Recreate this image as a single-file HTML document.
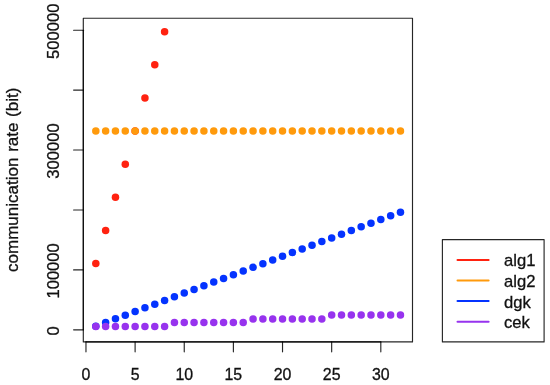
<!DOCTYPE html>
<html><head><meta charset="utf-8"><title>plot</title>
<style>html,body{margin:0;padding:0;background:#fff}svg{display:block}text{font-family:"Liberation Sans",sans-serif;fill:#111;stroke:#111;stroke-width:0.3px}</style></head>
<body>
<svg width="550" height="385" viewBox="0 0 550 385">
<rect width="550" height="385" fill="#fff"/>
<g fill="#ff2210">
<circle cx="95.80" cy="263.60" r="3.75"/>
<circle cx="105.63" cy="230.47" r="3.75"/>
<circle cx="115.46" cy="197.34" r="3.75"/>
<circle cx="125.28" cy="164.21" r="3.75"/>
<circle cx="135.11" cy="131.08" r="3.75"/>
<circle cx="144.94" cy="97.95" r="3.75"/>
<circle cx="154.77" cy="64.82" r="3.75"/>
<circle cx="164.60" cy="31.69" r="3.75"/>
</g>
<g fill="#ff9a0c">
<circle cx="95.80" cy="131.00" r="3.75"/>
<circle cx="105.63" cy="131.00" r="3.75"/>
<circle cx="115.46" cy="131.00" r="3.75"/>
<circle cx="125.28" cy="131.00" r="3.75"/>
<circle cx="135.11" cy="131.00" r="3.75"/>
<circle cx="144.94" cy="131.00" r="3.75"/>
<circle cx="154.77" cy="131.00" r="3.75"/>
<circle cx="164.60" cy="131.00" r="3.75"/>
<circle cx="174.42" cy="131.00" r="3.75"/>
<circle cx="184.25" cy="131.00" r="3.75"/>
<circle cx="194.08" cy="131.00" r="3.75"/>
<circle cx="203.91" cy="131.00" r="3.75"/>
<circle cx="213.74" cy="131.00" r="3.75"/>
<circle cx="223.56" cy="131.00" r="3.75"/>
<circle cx="233.39" cy="131.00" r="3.75"/>
<circle cx="243.22" cy="131.00" r="3.75"/>
<circle cx="253.05" cy="131.00" r="3.75"/>
<circle cx="262.88" cy="131.00" r="3.75"/>
<circle cx="272.70" cy="131.00" r="3.75"/>
<circle cx="282.53" cy="131.00" r="3.75"/>
<circle cx="292.36" cy="131.00" r="3.75"/>
<circle cx="302.19" cy="131.00" r="3.75"/>
<circle cx="312.02" cy="131.00" r="3.75"/>
<circle cx="321.84" cy="131.00" r="3.75"/>
<circle cx="331.67" cy="131.00" r="3.75"/>
<circle cx="341.50" cy="131.00" r="3.75"/>
<circle cx="351.33" cy="131.00" r="3.75"/>
<circle cx="361.16" cy="131.00" r="3.75"/>
<circle cx="370.98" cy="131.00" r="3.75"/>
<circle cx="380.81" cy="131.00" r="3.75"/>
<circle cx="390.64" cy="131.00" r="3.75"/>
<circle cx="400.47" cy="131.00" r="3.75"/>
</g>
<g fill="#0433ff">
<circle cx="95.80" cy="326.22" r="3.75"/>
<circle cx="105.63" cy="322.54" r="3.75"/>
<circle cx="115.46" cy="318.86" r="3.75"/>
<circle cx="125.28" cy="315.18" r="3.75"/>
<circle cx="135.11" cy="311.50" r="3.75"/>
<circle cx="144.94" cy="307.82" r="3.75"/>
<circle cx="154.77" cy="304.14" r="3.75"/>
<circle cx="164.60" cy="300.46" r="3.75"/>
<circle cx="174.42" cy="296.78" r="3.75"/>
<circle cx="184.25" cy="293.10" r="3.75"/>
<circle cx="194.08" cy="289.42" r="3.75"/>
<circle cx="203.91" cy="285.74" r="3.75"/>
<circle cx="213.74" cy="282.06" r="3.75"/>
<circle cx="223.56" cy="278.38" r="3.75"/>
<circle cx="233.39" cy="274.70" r="3.75"/>
<circle cx="243.22" cy="271.02" r="3.75"/>
<circle cx="253.05" cy="267.34" r="3.75"/>
<circle cx="262.88" cy="263.66" r="3.75"/>
<circle cx="272.70" cy="259.98" r="3.75"/>
<circle cx="282.53" cy="256.30" r="3.75"/>
<circle cx="292.36" cy="252.62" r="3.75"/>
<circle cx="302.19" cy="248.94" r="3.75"/>
<circle cx="312.02" cy="245.26" r="3.75"/>
<circle cx="321.84" cy="241.58" r="3.75"/>
<circle cx="331.67" cy="237.90" r="3.75"/>
<circle cx="341.50" cy="234.22" r="3.75"/>
<circle cx="351.33" cy="230.54" r="3.75"/>
<circle cx="361.16" cy="226.86" r="3.75"/>
<circle cx="370.98" cy="223.18" r="3.75"/>
<circle cx="380.81" cy="219.50" r="3.75"/>
<circle cx="390.64" cy="215.82" r="3.75"/>
<circle cx="400.47" cy="212.14" r="3.75"/>
</g>
<g fill="#9733ee">
<circle cx="95.80" cy="326.40" r="3.75"/>
<circle cx="105.63" cy="326.40" r="3.75"/>
<circle cx="115.46" cy="326.40" r="3.75"/>
<circle cx="125.28" cy="326.40" r="3.75"/>
<circle cx="135.11" cy="326.40" r="3.75"/>
<circle cx="144.94" cy="326.40" r="3.75"/>
<circle cx="154.77" cy="326.40" r="3.75"/>
<circle cx="164.60" cy="326.40" r="3.75"/>
<circle cx="174.42" cy="322.60" r="3.75"/>
<circle cx="184.25" cy="322.60" r="3.75"/>
<circle cx="194.08" cy="322.60" r="3.75"/>
<circle cx="203.91" cy="322.60" r="3.75"/>
<circle cx="213.74" cy="322.60" r="3.75"/>
<circle cx="223.56" cy="322.60" r="3.75"/>
<circle cx="233.39" cy="322.60" r="3.75"/>
<circle cx="243.22" cy="322.60" r="3.75"/>
<circle cx="253.05" cy="319.00" r="3.75"/>
<circle cx="262.88" cy="319.00" r="3.75"/>
<circle cx="272.70" cy="319.00" r="3.75"/>
<circle cx="282.53" cy="319.00" r="3.75"/>
<circle cx="292.36" cy="319.00" r="3.75"/>
<circle cx="302.19" cy="319.00" r="3.75"/>
<circle cx="312.02" cy="319.00" r="3.75"/>
<circle cx="321.84" cy="319.00" r="3.75"/>
<circle cx="331.67" cy="315.10" r="3.75"/>
<circle cx="341.50" cy="315.10" r="3.75"/>
<circle cx="351.33" cy="315.10" r="3.75"/>
<circle cx="361.16" cy="315.10" r="3.75"/>
<circle cx="370.98" cy="315.10" r="3.75"/>
<circle cx="380.81" cy="315.10" r="3.75"/>
<circle cx="390.64" cy="315.10" r="3.75"/>
<circle cx="400.47" cy="315.10" r="3.75"/>
</g>
<g stroke="#000" stroke-width="1.15" fill="none" stroke-linecap="round" stroke-linejoin="round" stroke-opacity="0.85">
<rect x="83.3" y="18.2" width="329.2" height="323.7"/>
<path d="M85.97 341.9H380.81"/>
<path d="M85.97 341.9v9.9"/>
<path d="M135.11 341.9v9.9"/>
<path d="M184.25 341.9v9.9"/>
<path d="M233.39 341.9v9.9"/>
<path d="M282.53 341.9v9.9"/>
<path d="M331.67 341.9v9.9"/>
<path d="M380.81 341.9v9.9"/>
<path d="M83.3 329.80V30.20"/>
<path d="M83.3 329.80h-9.7"/>
<path d="M83.3 269.88h-9.7"/>
<path d="M83.3 209.96h-9.7"/>
<path d="M83.3 150.04h-9.7"/>
<path d="M83.3 90.12h-9.7"/>
<path d="M83.3 30.20h-9.7"/>
<rect x="442.4" y="239.6" width="101.7" height="102.3"/>
</g>
<path d="M457.5 259.9H488.6" stroke="#ff2210" stroke-width="2" stroke-linecap="round"/>
<text x="504.0" y="266.3" font-size="16.6">alg1</text>
<path d="M457.5 280.5H488.6" stroke="#ff9a0c" stroke-width="2" stroke-linecap="round"/>
<text x="504.0" y="286.9" font-size="16.6">alg2</text>
<path d="M457.5 301.1H488.6" stroke="#0433ff" stroke-width="2" stroke-linecap="round"/>
<text x="504.0" y="307.5" font-size="16.6">dgk</text>
<path d="M457.5 321.7H488.6" stroke="#9733ee" stroke-width="2" stroke-linecap="round"/>
<text x="504.0" y="328.1" font-size="16.6">cek</text>
<text x="85.97" y="379.7" font-size="15.9" text-anchor="middle">0</text>
<text x="135.11" y="379.7" font-size="15.9" text-anchor="middle">5</text>
<text x="184.25" y="379.7" font-size="15.9" text-anchor="middle">10</text>
<text x="233.39" y="379.7" font-size="15.9" text-anchor="middle">15</text>
<text x="282.53" y="379.7" font-size="15.9" text-anchor="middle">20</text>
<text x="331.67" y="379.7" font-size="15.9" text-anchor="middle">25</text>
<text x="380.81" y="379.7" font-size="15.9" text-anchor="middle">30</text>
<text transform="translate(58.9 330.80) rotate(-90)" font-size="16.6" text-anchor="middle">0</text>
<text transform="translate(58.9 270.88) rotate(-90)" font-size="16.6" text-anchor="middle">100000</text>
<text transform="translate(58.9 151.04) rotate(-90)" font-size="16.6" text-anchor="middle">300000</text>
<text transform="translate(58.9 31.20) rotate(-90)" font-size="16.6" text-anchor="middle">500000</text>
<text transform="translate(18.3 179.8) rotate(-90)" font-size="17.05" word-spacing="0.9" text-anchor="middle">communication rate (bit)</text>
</svg>
</body></html>
